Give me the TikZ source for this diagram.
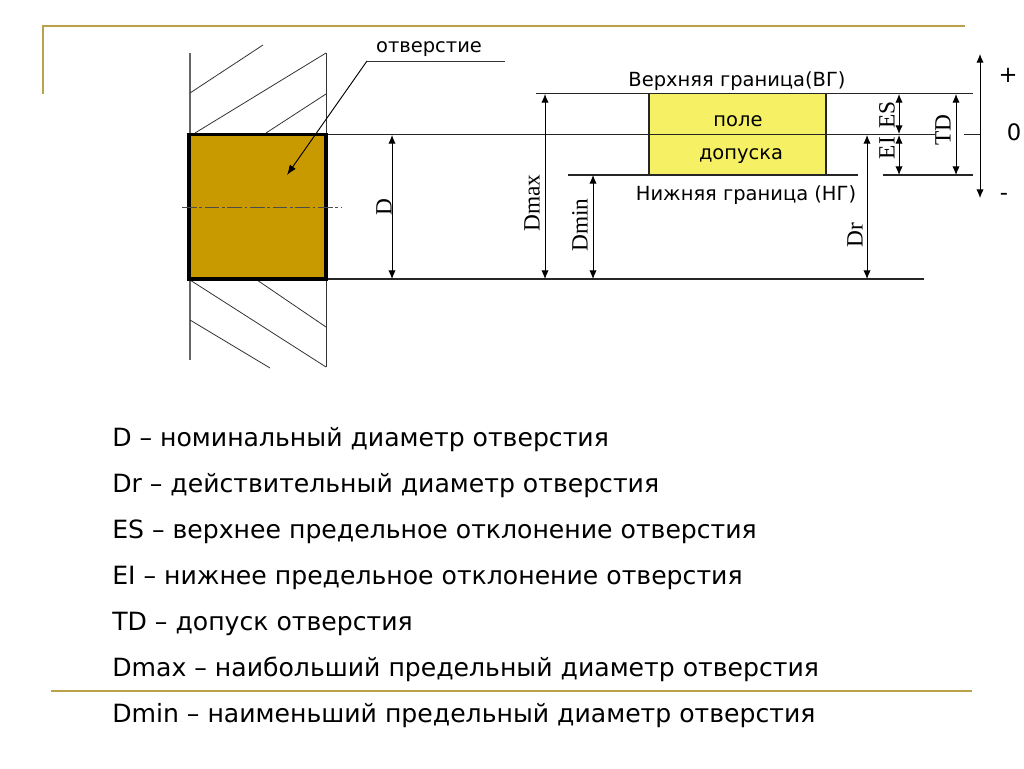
\documentclass[tikz,border=0pt]{standalone}
\usepackage{fontspec}
\setmainfont{DejaVu Sans}
\newfontfamily\dimfont{Liberation Serif}
\usepackage{tikz}
\usetikzlibrary{arrows.meta,calc}
\definecolor{framegold}{HTML}{B9A24A}
\definecolor{holefill}{HTML}{C99A00}
\definecolor{fieldfill}{HTML}{F6F164}
\tikzset{
  dimline/.style={color=black, line width=0.7pt, {Latex[length=6.5pt,width=5.5pt]}-{Latex[length=6.5pt,width=5.5pt]}},
  hatchline/.style={color=black!80, line width=0.6pt},
  levelline/.style={color=black!85, line width=0.8pt},
  framerule/.style={color=framegold, line width=1.8pt},
  dimlabel/.style={font=\dimfont\fontsize{17.5}{18}\selectfont, rotate=90, inner sep=0pt},
  sketchlabel/.style={font=\fontsize{14.6}{16}\selectfont, inner sep=0pt},
  signlabel/.style={font=\fontsize{17}{18}\selectfont, inner sep=0pt},
  listline/.style={font=\fontsize{18.85}{20}\selectfont, anchor=base west, inner sep=0pt},
}

\begin{document}
\begin{tikzpicture}[x=0.75pt,y=-0.75pt]
\useasboundingbox (0,0) rectangle (1024,768);
% frame rules
\draw[framerule] (43,94) -- (43,26) -- (965,26);
\draw[framerule] (51,691) -- (972,691);
% walls and hatching
\draw[hatchline, line width=0.9pt, color=black!60] (190,53) -- (190,360);
\draw[hatchline] (326,53) -- (326,134);
\draw[hatchline] (326,279) -- (326,367);
\draw[hatchline] (190,93) -- (263,45);
\draw[hatchline] (195,133) -- (326,53);
\draw[hatchline] (266,133) -- (326,94);
\draw[hatchline] (190,280) -- (326,367);
\draw[hatchline] (257,280) -- (326,327);
\draw[hatchline] (190,320) -- (270,368);
% level lines
\draw[levelline] (326,134.5) -- (935,134.5);
\draw[levelline] (964,134.5) -- (980,134.5);
\draw[levelline] (326,279) -- (924,279);
\draw[levelline] (536,93.5) -- (973,93.5);
\draw[levelline] (568,175) -- (858,175);
\draw[levelline] (883,175) -- (973,175);
% hole and tolerance field
\draw[fill=holefill, line width=2.4pt] (189,134.5) rectangle (326,279);
\draw[color=black!70, line width=0.6pt, dash pattern=on 11pt off 2pt on 2pt off 2pt] (182,207) -- (341,207);
\draw[draw=black!85, fill=fieldfill, line width=0.8pt] (649,93.5) rectangle (826,175);
\draw[levelline] (649,134.5) -- (826,134.5);
% leader
\node[sketchlabel] (hole) at (429,49) {отверстие};
\coordinate (leadknee) at (367,61);
\draw[hatchline] (505,61) -- (leadknee);
\draw[color=black, line width=0.7pt, -{Latex[length=7.5pt,width=5.5pt]}] (leadknee) -- (287,175);
% dimensions
\draw[dimline] (392,135) -- (392,279);
\draw[dimline] (545,94) -- (545,279);
\draw[dimline] (593,175) -- (593,279);
\draw[dimline] (867,135) -- (867,279);
\draw[dimline] (899,94) -- (899,134);
\draw[dimline] (899,135) -- (899,175);
\draw[dimline] (956,94) -- (956,175);
\draw[dimline] (980,54) -- (980,198);
\node[dimlabel] (labD) at (384,207) {D};
\node[dimlabel] (labDmax) at (532,203) {Dmax};
\node[dimlabel] (labDmin) at (580,225) {Dmin};
\node[dimlabel] (labDr) at (855,235) {Dr};
\node[dimlabel] (labES) at (887,115) {ES};
\node[dimlabel] (labEI) at (887,148) {EI};
\node[dimlabel] (labTD) at (943,130) {TD};
% field labels
\node[sketchlabel] (upper) at (737,81) {Верхняя граница(ВГ)};
\node[sketchlabel] (field1) at (738,121) {поле};
\node[sketchlabel] (field2) at (741,156) {допуска};
\node[sketchlabel] (lower) at (746,195) {Нижняя граница (НГ)};
\node[signlabel] (plus) at (1008,75) {+};
\node[signlabel] (zero) at (1014,132) {0};
\node[signlabel] (minus) at (1004,197) {-};
% list
\node[listline] (l1) at (112,446) {D – номинальный диаметр отверстия};
\node[listline] (l2) at (112,492) {Dr – действительный диаметр отверстия};
\node[listline] (l3) at (112,538) {ES – верхнее предельное отклонение отверстия};
\node[listline] (l4) at (112,584) {EI – нижнее предельное отклонение отверстия};
\node[listline] (l5) at (112,630) {TD – допуск отверстия};
\node[listline] (l6) at (112,676) {Dmax – наибольший предельный диаметр отверстия};
\node[listline] (l7) at (112,722) {Dmin – наименьший предельный диаметр отверстия};
\end{tikzpicture}
\end{document}
